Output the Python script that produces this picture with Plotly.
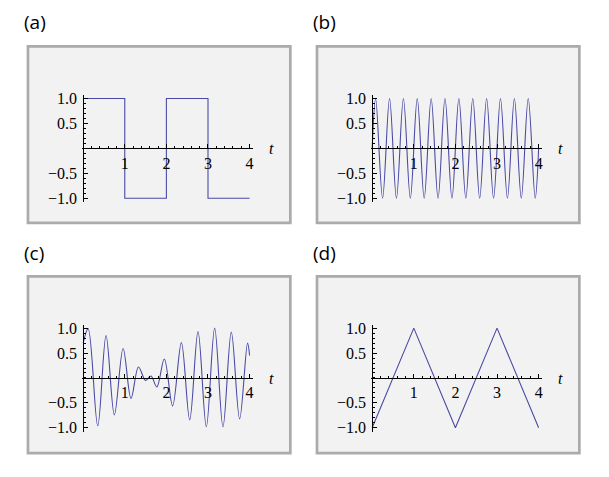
import plotly.graph_objects as go

# (a) square wave
square_t = [0, 1, 1, 2, 2, 3, 3, 4]
square_y = [1, 1, -1, -1, 1, 1, -1, -1]

# (b) fast oscillation, turning points
sine_t = [0, 0.083, 0.25, 0.417, 0.583, 0.75, 0.917, 1.083, 1.25, 1.417, 1.583, 1.75,
          1.917, 2.083, 2.25, 2.417, 2.583, 2.75, 2.917, 3.083, 3.25, 3.417, 3.583,
          3.75, 3.917, 4.0]
sine_y = [0, 1, -1, 1, -1, 1, -1, 1, -1, 1, -1, 1,
          -1, 1, -1, 1, -1, 1, -1, 1, -1, 1, -1,
          1, -1, 0]

# (c) beating signal, turning points
beat_t = [0, 0.12, 0.35, 0.55, 0.75, 0.96, 1.15, 1.33, 1.5, 1.63, 1.77, 1.95,
          2.15, 2.36, 2.56, 2.76, 2.96, 3.16, 3.36, 3.56, 3.76, 3.95, 4.0]
beat_y = [0.7, 0.99, -0.96, 0.85, -0.74, 0.59, -0.41, 0.22, -0.05, 0.04, -0.18, 0.38,
          -0.56, 0.71, -0.84, 0.93, -0.98, 1.0, -0.98, 0.92, -0.82, 0.70, 0.45]

# (d) triangle wave
tri_t = [0, 1, 2, 3, 4]
tri_y = [-1, 1, -1, 1, -1]

panel_labels = ['(a)', '(b)', '(c)', '(d)']
x_tickvals = [1, 2, 3, 4]
x_ticktext = ['1', '2', '3', '4']
y_tickvals = [-1, -0.5, 0.5, 1]
y_ticktext = ['\u22121.0', '\u22120.5', '0.5', '1.0']

W, H = 609, 477
PAD = 8  # the page body adds an 8px margin
line_col = '#4a4aa6'
serif = 'Liberation Serif'

def fx(px):
    return (px - PAD) / W

def fy(py):
    return 1 - (py - PAD) / H

# pixel offsets of the four panels
offsets = [(0, 0), (289.5, 0), (0, 234), (289.5, 234)]
series = [(square_t, square_y, 'linear'), (sine_t, sine_y, 'spline'),
          (beat_t, beat_y, 'spline'), (tri_t, tri_y, 'linear')]

fig = go.Figure()
layout = {}
shapes = []
annotations = []

for i, ((dx, dy), (tx, ty, shape)) in enumerate(zip(offsets, series)):
    n = '' if i == 0 else str(i + 1)
    fig.add_trace(go.Scatter(x=tx, y=ty, mode='lines',
                             line=dict(color=line_col, width=1.1, shape=shape),
                             xaxis='x' + n, yaxis='y' + n,
                             showlegend=False, hoverinfo='skip'))

    layout['xaxis' + n] = dict(
        domain=[fx(81.7 + dx), fx(253.3 + dx)], range=[-0.038, 4.079],
        anchor='free', position=fy(146 + dy),
        showline=True, linecolor='black', linewidth=1,
        showgrid=False, zeroline=False,
        tickmode='array', tickvals=x_tickvals, ticktext=x_ticktext,
        ticks='inside', ticklen=4, tickwidth=1, tickcolor='black',
        minor=dict(tickmode='linear', tick0=0, dtick=0.2, ticks='inside',
                   ticklen=2, tickwidth=1, tickcolor='black', showgrid=False),
        tickfont=dict(family=serif, size=16, color='black'),
        ticklabelstandoff=0, fixedrange=True)
    layout['yaxis' + n] = dict(
        domain=[fy(201 + dy), fy(92 + dy)], range=[-1.083, 1.063],
        anchor='free', position=fx(83.3 + dx),
        showline=True, linecolor='black', linewidth=1,
        showgrid=False, zeroline=False,
        tickmode='array', tickvals=y_tickvals, ticktext=y_ticktext,
        ticks='inside', ticklen=4, tickwidth=1, tickcolor='black',
        minor=dict(tickmode='linear', tick0=0, dtick=0.1, ticks='inside',
                   ticklen=2, tickwidth=1, tickcolor='black', showgrid=False),
        tickfont=dict(family=serif, size=16, color='black'),
        ticklabelstandoff=3, fixedrange=True)

    by = dy + (0.5 if dy else 0)
    shapes.append(dict(type='rect', xref='paper', yref='paper', layer='below',
                       x0=fx(28 + dx), x1=fx(290.8 + dx),
                       y0=fy(222 + by), y1=fy(42 + by),
                       fillcolor='#f2f2f2', line=dict(color='#ababab', width=2.7)))

    annotations.append(dict(text='<i>t</i>', xref='paper', yref='paper',
                            x=fx(271.7 + dx), y=fy(146.5 + dy),
                            xanchor='center', yanchor='middle', showarrow=False,
                            font=dict(family=serif, size=16, color='black')))
    annotations.append(dict(text=panel_labels[i], xref='paper', yref='paper',
                            x=fx(22 + dx), y=fy(17 + dy + (1.5 if dy else 0)),
                            xanchor='left', yanchor='middle', showarrow=False,
                            font=dict(family='Open Sans', size=19, color='black')))

fig.update_layout(**layout)
fig.update_layout(width=W, height=H, margin=dict(l=0, r=0, t=0, b=0),
                  paper_bgcolor='white', plot_bgcolor='rgba(0,0,0,0)',
                  shapes=shapes, annotations=annotations)

fig.write_html("out.html")
